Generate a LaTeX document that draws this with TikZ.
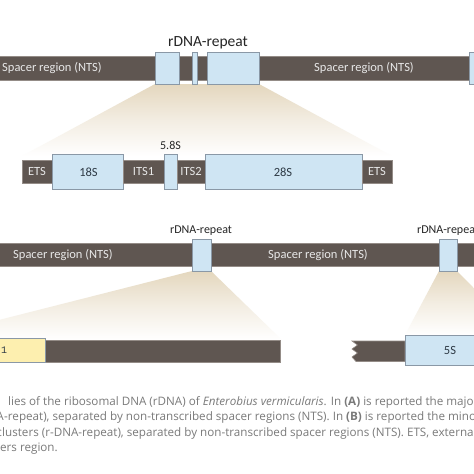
\documentclass[tikz,border=0pt]{standalone}
\usepackage{fontspec}
\setmainfont{Carlito}
\newfontfamily\capfont{Open Sans}
\newfontfamily\monofont{Liberation Mono}
\definecolor{dna}{HTML}{5F5651}
\definecolor{dnaedge}{HTML}{948C87}
\definecolor{rboxc}{HTML}{CFE5F3}
\definecolor{rboxedge}{HTML}{8A98A6}
\definecolor{yboxc}{HTML}{FDEFAF}
\definecolor{shadecol}{HTML}{E4D7BE}
\definecolor{captxt}{HTML}{7A7A7A}
\definecolor{lbl}{HTML}{E8E8E8}
\definecolor{boxtxt}{HTML}{2E3A45}
\tikzset{
  seg/.style={fill=dna, draw=dnaedge, line width=0.6pt},
  rbox/.style={fill=rboxc, draw=rboxedge, line width=0.7pt},
  ybox/.style={fill=yboxc, draw=rboxedge, line width=0.7pt},
  fan/.style={top color=shadecol, bottom color=white, middle color=shadecol!45},
  onseg/.style={text=lbl, font=\fontsize{12.5}{14}\selectfont, inner sep=0pt},
  onseg2/.style={text=lbl, font=\fontsize{12.5}{14}\selectfont, inner sep=0pt},
  inbox/.style={text=boxtxt, font=\fontsize{12.5}{14}\selectfont, inner sep=0pt},
  toplbl/.style={text=black!85, font=\fontsize{15.5}{18}\selectfont, inner sep=0pt},
  blbl/.style={text=black!85, font=\fontsize{12}{14}\selectfont, inner sep=0pt},
  captext/.style={text=captxt, font=\capfont\fontsize{11.65}{14}\selectfont, inner sep=0pt, anchor=base west},
}
\begin{document}
\begin{tikzpicture}[x=1pt,y=-1pt]
\useasboundingbox (0,0) rectangle (474,474);
\clip (0,0) rectangle (474,474);
\fill[white] (0,0) rectangle (474,474);

% ---------- (A) ----------
\shade[fan] (155,84) -- (259,84) -- (392,156) -- (22,156) -- cycle;
\draw[seg] (-5,56) rectangle (469,80);
\draw[rbox] (155,52) rectangle (179,84);
\draw[rbox] (192,52) rectangle (197,84);
\draw[rbox] (207,52) rectangle (259,84);
\draw[rbox] (469,52) rectangle (500,84);
\node[toplbl] (rA) at (208,43) {rDNA-repeat};
\node[onseg, anchor=west] (spA1) at (2,68) {Spacer region (NTS)};
\node[onseg] (spA2) at (364,68) {Spacer region (NTS)};

% row 2
\draw[seg] (22,160) rectangle (52,183);
\draw[rbox] (52,154) rectangle (123,189);
\draw[seg] (123,160) rectangle (164,183);
\draw[rbox] (164,154) rectangle (177,189);
\draw[seg] (177,160) rectangle (205,183);
\draw[rbox] (205,154) rectangle (362,189);
\draw[seg] (362,160) rectangle (392,183);
\node[onseg2] (ets1) at (37,171.5) {ETS};
\node[inbox] (s18) at (88.5,172) {18S};
\node[onseg2] (its1) at (143.5,171.5) {ITS1};
\node[onseg2] (its2) at (191,171.5) {ITS2};
\node[inbox] (s28) at (283,172) {28S};
\node[onseg2] (ets2) at (377,171.5) {ETS};
\node[blbl] (s58) at (170.5,145) {5.8S};

% ---------- (B) ----------
\shade[fan] (192,271) -- (211,271) -- (282,340) -- (-80,340) -- cycle;
\shade[fan] (439,271) -- (457,271) -- (520,335) -- (405,335) -- cycle;
\draw[seg] (-5,243) rectangle (480,266);
\draw[rbox] (192,239) rectangle (211,271);
\draw[rbox] (439,239) rectangle (457,271);
\node[blbl] (rB1) at (201,231) {rDNA-repeat};
\node[blbl] (rB2) at (448,231) {rDNA-repeat};
\node[onseg, anchor=west] (spB1) at (13,255) {Spacer region (NTS)};
\node[onseg] (spB2) at (318,255) {Spacer region (NTS)};

% bottom row
\draw[seg] (45,340) rectangle (280,362);
\draw[ybox] (-10,338) rectangle (45,362);
\node[text=boxtxt, font=\monofont\fontsize{10}{12}\selectfont, inner sep=0pt, anchor=west] (one) at (1,350) {1};
\draw[seg] (352,341) -- (357.5,345) -- (352,349) -- (357.5,353) -- (352,357) -- (356,361.5) -- (405,361.5) -- (405,341) -- cycle;
\draw[rbox] (405,335) rectangle (490,365);
\node[inbox] (s5) at (450,350) {5S};

% ---------- caption ----------
\node[captext] (c1) at (8,405) {lies of the ribosomal DNA (rDNA) of \textit{Enterobius vermicularis}. In \textbf{(A)} is reported the major};
\node[captext, anchor=base east] (c2a) at (4,420.5) {rDNA};
\node[captext] (c2) at (4,420.5) {-repeat), separated by non-transcribed spacer regions (NTS). In \textbf{(B)} is reported the minor};
\node[captext, anchor=base east] (c3a) at (2,436) {c};
\node[captext] (c3) at (2,436) {lusters (r-DNA-repeat), separated by non-transcribed spacer regions (NTS). ETS, external};
\node[captext] (c4) at (0,451.5) {ers region.};
\end{tikzpicture}
\end{document}
